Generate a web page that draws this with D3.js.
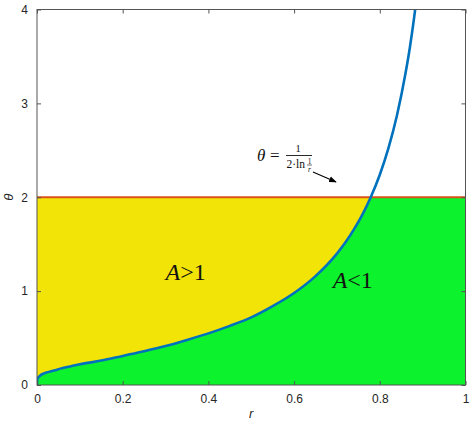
<!DOCTYPE html>
<html>
  <head>
    <script type="text/javascript" src="https://cdn.jsdelivr.net/npm/d3@7"></script>
    <style>
      body { margin: 0; background: #fff; }
    </style>
  </head>
  <body>
    <div id="viz"></div>
    <script type="text/javascript">
      // curve: r along x, theta along y
      const rVals = [0, 0.001, 0.005, 0.01, 0.02, 0.04, 0.06, 0.08, 0.10, 0.15, 0.20, 0.25,
        0.30, 0.35, 0.40, 0.45, 0.50, 0.55, 0.60, 0.65, 0.70, 0.72, 0.74, 0.76, 0.7788,
        0.80, 0.82, 0.84, 0.86, 0.87, 0.88, 0.8825];
      const thetaVals = [0, 0.07, 0.09, 0.11, 0.13, 0.155, 0.18, 0.20, 0.22, 0.26, 0.31, 0.36,
        0.415, 0.48, 0.55, 0.63, 0.72, 0.84, 0.98, 1.16, 1.40, 1.52, 1.66, 1.82, 2.0,
        2.24, 2.52, 2.87, 3.32, 3.59, 3.91, 4.0];
      const limitTheta = 2;
      const xTicks = [0, 0.2, 0.4, 0.6, 0.8, 1];
      const yTicks = [0, 1, 2, 3, 4];
      const regionLabels = [
        { text: "A", rel: ">1", r: 0.30, t: 1.12 },
        { text: "A", rel: "<1", r: 0.69, t: 1.03 }
      ];

      const width = 474, height = 425;
      const plotL = 37, plotR = 465.5, plotT = 9.5, plotB = 385;

      const svg = d3.select("#viz").append("svg")
        .attr("width", width)
        .attr("height", height);

      const x = d3.scaleLinear().domain([0, 1]).range([plotL, plotR]);
      const y = d3.scaleLinear().domain([0, 4]).range([plotB, plotT]);

      const curve = rVals.map((r, i) => ({ r: r, t: thetaVals[i] }));
      const below = curve.filter(d => d.t <= limitTheta);

      svg.append("clipPath").attr("id", "plot")
        .append("rect")
        .attr("x", plotL).attr("y", plotT)
        .attr("width", plotR - plotL).attr("height", plotB - plotT);

      const g = svg.append("g").attr("clip-path", "url(#plot)");

      // A>1 region: between curve and the horizontal limit
      g.append("path")
        .datum(below)
        .attr("fill", "#f2e407")
        .attr("d", d3.area().x(d => x(d.r)).y0(y(limitTheta)).y1(d => y(d.t)));

      // A<1 region: under curve, capped at the limit, out to r = 1
      const green = below.concat([{ r: 1, t: limitTheta }]);
      g.append("path")
        .datum(green)
        .attr("fill", "#0cf22c")
        .attr("d", d3.area().x(d => x(d.r)).y0(y(0)).y1(d => y(d.t)));

      g.append("line")
        .attr("x1", x(0)).attr("x2", x(1))
        .attr("y1", y(limitTheta)).attr("y2", y(limitTheta))
        .attr("stroke", "#d95319")
        .attr("stroke-width", 2.2);

      g.append("path")
        .datum(curve)
        .attr("fill", "none")
        .attr("stroke", "#0072bd")
        .attr("stroke-width", 2.6)
        .attr("d", d3.line().x(d => x(d.r)).y(d => y(d.t)).curve(d3.curveMonotoneX));

      // axes, matlab style box with inward ticks
      const axisColor = "#555";
      const tickFont = "Liberation Sans, Arial, sans-serif";
      const fmt = d3.format("");
      function styleAxis(sel) {
        sel.select(".domain").remove();
        sel.selectAll(".tick line").attr("stroke", axisColor);
        sel.selectAll(".tick text").attr("fill", "#262626")
          .style("font-family", tickFont).style("font-size", "12px");
      }

      svg.append("g").attr("transform", "translate(0," + plotB + ")")
        .call(d3.axisBottom(x).tickValues(xTicks).tickSizeInner(-4).tickPadding(9).tickFormat(fmt))
        .call(styleAxis);
      svg.append("g").attr("transform", "translate(0," + plotT + ")")
        .call(d3.axisTop(x).tickValues(xTicks).tickSizeInner(-4).tickFormat(""))
        .call(styleAxis);
      svg.append("g").attr("transform", "translate(" + plotL + ",0)")
        .call(d3.axisLeft(y).tickValues(yTicks).tickSizeInner(-4).tickPadding(9).tickFormat(fmt))
        .call(styleAxis);
      svg.append("g").attr("transform", "translate(" + plotR + ",0)")
        .call(d3.axisRight(y).tickValues(yTicks).tickSizeInner(-4).tickFormat(""))
        .call(styleAxis);

      svg.append("rect")
        .attr("x", plotL).attr("y", plotT)
        .attr("width", plotR - plotL).attr("height", plotB - plotT)
        .attr("fill", "none").attr("stroke", axisColor).attr("stroke-width", 1);

      // axis labels
      svg.append("text")
        .attr("x", x(0.5)).attr("y", 418)
        .attr("text-anchor", "middle")
        .style("font-family", tickFont).style("font-style", "italic").style("font-size", "13px")
        .attr("fill", "#262626")
        .text("r");
      svg.append("text")
        .attr("transform", "translate(13," + y(2) + ") rotate(-90)")
        .attr("text-anchor", "middle")
        .style("font-family", tickFont).style("font-style", "italic").style("font-size", "13px")
        .attr("fill", "#262626")
        .text("θ");

      // region labels
      const serif = "Liberation Serif, Times New Roman, serif";
      regionLabels.forEach(l => {
        const t = svg.append("text")
          .attr("x", x(l.r)).attr("y", y(l.t))
          .style("font-family", serif).style("font-size", "24px")
          .attr("fill", "#111");
        t.append("tspan").style("font-style", "italic").text(l.text);
        t.append("tspan").text(l.rel);
      });

      // formula annotation
      const ann = svg.append("g").style("font-family", serif).attr("fill", "#111");
      ann.append("text").attr("x", 257).attr("y", 161)
        .style("font-style", "italic").style("font-size", "17px").text("θ");
      ann.append("text").attr("x", 270).attr("y", 161)
        .style("font-size", "17px").text("=");
      ann.append("text").attr("x", 298).attr("y", 152)
        .attr("text-anchor", "middle").style("font-size", "10.5px").text("1");
      ann.append("line").attr("x1", 286).attr("x2", 312)
        .attr("y1", 155.5).attr("y2", 155.5)
        .attr("stroke", "#111").attr("stroke-width", 0.9);
      ann.append("text").attr("x", 286.5).attr("y", 167.5)
        .style("font-size", "11.5px").text("2·ln");
      ann.append("text").attr("x", 309.5).attr("y", 163.5)
        .attr("text-anchor", "middle").style("font-size", "7.5px").text("1");
      ann.append("line").attr("x1", 307).attr("x2", 312)
        .attr("y1", 165).attr("y2", 165)
        .attr("stroke", "#111").attr("stroke-width", 0.6);
      ann.append("text").attr("x", 309.5).attr("y", 171.5)
        .attr("text-anchor", "middle").style("font-style", "italic").style("font-size", "7.5px").text("r");

      svg.append("defs").append("marker")
        .attr("id", "head")
        .attr("viewBox", "0 0 10 10")
        .attr("refX", 9).attr("refY", 5)
        .attr("markerWidth", 7).attr("markerHeight", 7)
        .attr("orient", "auto")
        .append("path").attr("d", "M0,1 L10,5 L0,9 Z").attr("fill", "#000");
      svg.append("line")
        .attr("x1", 313).attr("y1", 172).attr("x2", 336).attr("y2", 182)
        .attr("stroke", "#000").attr("stroke-width", 1.1)
        .attr("marker-end", "url(#head)");
    </script>
  </body>
</html>
